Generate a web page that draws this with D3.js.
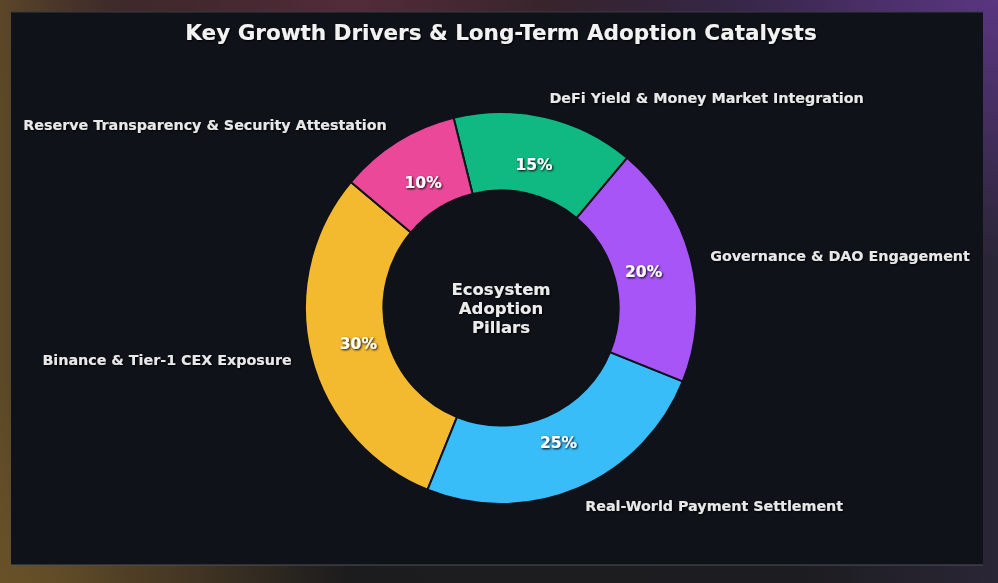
<!DOCTYPE html>
<html><head><meta charset="utf-8">
<script src="https://cdn.jsdelivr.net/npm/d3@7"></script>
<style>
html,body{margin:0;padding:0;background:#1c1c1e;overflow:hidden;}
svg{display:block;}
</style></head>
<body>
<script>
const categories = ["Binance & Tier-1 CEX Exposure","Real-World Payment Settlement","Governance & DAO Engagement","DeFi Yield & Money Market Integration","Reserve Transparency & Security Attestation"];
const shares = [30,25,20,15,10];
const colors = ["#F3B92F","#38BDF8","#A855F7","#10B981","#EC4899"];
const title = "Key Growth Drivers & Long-Term Adoption Catalysts";
const centerLines = ["Ecosystem","Adoption","Pillars"];

const W=998,H=583;
const svg=d3.select("body").append("svg").attr("width",W).attr("height",H);
const defs=svg.append("defs");
const g1=defs.append("linearGradient").attr("id","bgA").attr("x1","0").attr("y1","0").attr("x2","1").attr("y2","0");
g1.append("stop").attr("offset","0").attr("stop-color","#5c4a26");
g1.append("stop").attr("offset","0.12").attr("stop-color","#2e2620");
g1.append("stop").attr("offset","0.3").attr("stop-color","#1d1c1d");
g1.append("stop").attr("offset","0.8").attr("stop-color","#1d1c20");
g1.append("stop").attr("offset","1").attr("stop-color","#2a2636");
svg.append("rect").attr("width",W).attr("height",H).attr("fill","url(#bgA)");
const rg1=defs.append("radialGradient").attr("id","glowTL").attr("cx","0.35").attr("cy","0").attr("r","0.4");
rg1.append("stop").attr("offset","0").attr("stop-color","#5a2e3c").attr("stop-opacity",0.9);
rg1.append("stop").attr("offset","1").attr("stop-color","#5a2e3c").attr("stop-opacity",0);
svg.append("rect").attr("width",W).attr("height",H).attr("fill","url(#glowTL)");
const rg2=defs.append("radialGradient").attr("id","glowTR").attr("cx","1").attr("cy","0").attr("r","0.45");
rg2.append("stop").attr("offset","0").attr("stop-color","#5a3580").attr("stop-opacity",1);
rg2.append("stop").attr("offset","1").attr("stop-color","#5a3580").attr("stop-opacity",0);
svg.append("rect").attr("width",W).attr("height",H).attr("fill","url(#glowTR)");
const rg3=defs.append("radialGradient").attr("id","glowBL").attr("cx","0").attr("cy","1").attr("r","0.35");
rg3.append("stop").attr("offset","0").attr("stop-color","#6a5228").attr("stop-opacity",0.9);
rg3.append("stop").attr("offset","1").attr("stop-color","#6a5228").attr("stop-opacity",0);
svg.append("rect").attr("width",W).attr("height",H).attr("fill","url(#glowBL)");

// panel
svg.append("rect").attr("x",11).attr("y",12).attr("width",972).attr("height",553).attr("fill","#0f1219");
svg.append("line").attr("x1",11).attr("x2",983).attr("y1",565).attr("y2",565).attr("stroke","#50535a").attr("stroke-width",1);
svg.append("line").attr("x1",11).attr("x2",983).attr("y1",12).attr("y2",12).attr("stroke","#3a3a44").attr("stroke-width",1);

const shadow=defs.append("filter").attr("id","ts").attr("x","-10%").attr("y","-30%").attr("width","120%").attr("height","160%");
shadow.append("feGaussianBlur").attr("in","SourceAlpha").attr("stdDeviation",1).attr("result","b");
shadow.append("feOffset").attr("dx",0.5).attr("dy",0.5).attr("result","o");
const fm=shadow.append("feMerge");fm.append("feMergeNode").attr("in","o");fm.append("feMergeNode").attr("in","SourceGraphic");

svg.append("text").attr("x",501).attr("y",32).attr("text-anchor","middle").attr("dominant-baseline","central")
  .attr("font-family","DejaVu Sans").attr("font-weight","bold").attr("font-size",21.5).attr("fill","#f2f2f2").attr("filter","url(#ts)").text(title);

const cx=501,cy=308,R=196,r0=R*0.6;
const pie=d3.pie().sort(null).value(d=>d).startAngle((-50)*Math.PI/180).endAngle((-410)*Math.PI/180);
const arcs=pie(shares);
const arc=d3.arc().innerRadius(r0).outerRadius(R);
const g=svg.append("g").attr("transform",`translate(${cx},${cy})`);
g.selectAll("path").data(arcs).join("path").attr("d",arc).attr("fill",(d,i)=>colors[i]).attr("stroke","#0f1219").attr("stroke-width",2).attr("stroke-linejoin","round");

const mid=d=>(d.startAngle+d.endAngle)/2;
g.selectAll("text.pct").data(arcs).join("text").attr("class","pct")
  .attr("x",d=>Math.sin(mid(d))*R*0.75).attr("y",d=>-Math.cos(mid(d))*R*0.75)
  .attr("text-anchor","middle").attr("dominant-baseline","central")
  .attr("font-family","DejaVu Sans").attr("font-weight","bold").attr("font-size",15.5).attr("fill","#ffffff").attr("filter","url(#ts)")
  .text(d=>d.value+"%");

g.selectAll("text.lbl").data(arcs).join("text").attr("class","lbl")
  .attr("x",d=>Math.sin(mid(d))*R*1.1).attr("y",d=>-Math.cos(mid(d))*R*1.1)
  .attr("text-anchor",d=>Math.sin(mid(d))<0?"end":"start").attr("dominant-baseline","central")
  .attr("font-family","DejaVu Sans").attr("font-weight","bold").attr("font-size",14.3).attr("fill","#e8e8e8").attr("filter","url(#ts)")
  .text((d,i)=>categories[i]);

g.append("text").attr("text-anchor","middle").attr("font-family","DejaVu Sans").attr("font-weight","bold").attr("font-size",16.5).attr("fill","#ececec").attr("filter","url(#ts)")
  .selectAll("tspan").data(centerLines).join("tspan").attr("x",0).attr("y",(d,i)=>(i-1)*19).attr("dominant-baseline","central").text(d=>d);
</script>
</body></html>
